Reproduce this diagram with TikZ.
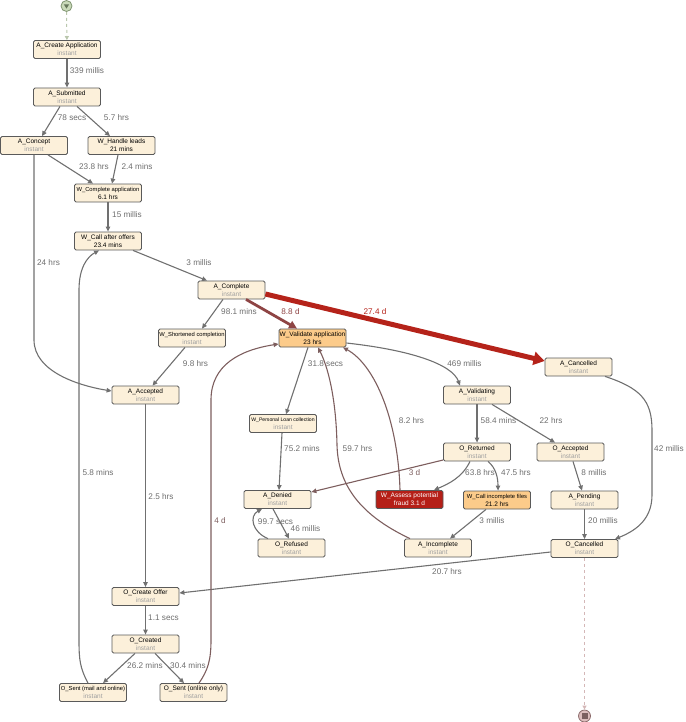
\documentclass[tikz,border=0pt]{standalone}
\usepackage{fontspec}
\setmainfont{Liberation Sans}
\usetikzlibrary{arrows.meta}
\definecolor{actfill}{HTML}{FCF0DA}
\definecolor{actline}{HTML}{5A5A5A}
\definecolor{hotfill}{HTML}{FCCB8A}
\definecolor{fraudfill}{HTML}{B51F17}
\definecolor{subgray}{HTML}{A0A0A0}
\definecolor{lblgray}{HTML}{6E6E6E}
\definecolor{flowgray}{HTML}{707070}
\definecolor{slowbrown}{HTML}{7D5E5E}
\definecolor{slowerred}{HTML}{8E4444}
\definecolor{slowestred}{HTML}{B5231A}
\definecolor{startfill}{HTML}{C9D9B9}
\definecolor{startline}{HTML}{7F9470}
\definecolor{endfill}{HTML}{DDBDBD}
\definecolor{endline}{HTML}{8A6A6A}
\begin{document}
\begin{tikzpicture}[x=1pt,y=-1pt,
	act/.style={draw=actline,fill=actfill,rounded corners=1.5pt,line width=0.8pt,minimum width=67pt,minimum height=18pt,inner sep=0pt,align=center,font=\fontsize{6.5}{8}\selectfont},
	hot/.style={act,fill=hotfill},
	fraudbox/.style={act,fill=fraudfill,text=white},
	lbl/.style={font=\fontsize{8.2}{9}\selectfont,text=lblgray,inner sep=0pt},
	flow/.style={draw=flowgray,line width=1.1pt,-{Triangle[length=5pt,width=4.5pt]}},
	slow/.style={flow,draw=slowbrown}]
	\useasboundingbox (0,0) rectangle (685,722);
	\node[circle,draw=startline,fill=startfill,line width=0.8pt,minimum size=11pt,inner sep=0pt] (start) at (66.5,6) {};
	\fill[startline!80!black] ([shift={(-2.6,-1.6)}]start.center) -- ([shift={(2.6,-1.6)}]start.center) -- ([shift={(0,2.6)}]start.center) -- cycle;
	\node[circle,draw=endline,fill=endfill,line width=0.8pt,minimum size=12pt,inner sep=0pt] (finish) at (584.5,716) {};
	\fill[endline!90!black] ([shift={(-3,-3)}]finish.center) rectangle ([shift={(3,3)}]finish.center);
	\node[act] (createapp) at (67,49.5) {A\_Create Application\\\textcolor{subgray}{instant}};
	\node[act] (submitted) at (67,97) {A\_Submitted\\\textcolor{subgray}{instant}};
	\node[act] (concept) at (34,145.5) {A\_Concept\\\textcolor{subgray}{instant}};
	\node[act] (handle) at (121.5,145.5) {W\_Handle leads\\21 mins};
	\node[act] (compapp) at (108,193) {{\fontsize{5.8}{8}\selectfont W\_Complete application}\\6.1 hrs};
	\node[act] (calloffers) at (108,241) {W\_Call after offers\\23.4 mins};
	\node[act] (acomplete) at (231.5,290) {A\_Complete\\\textcolor{subgray}{instant}};
	\node[act] (shortened) at (192,338) {{\fontsize{5.8}{8}\selectfont W\_Shortened completion}\\\textcolor{subgray}{instant}};
	\node[hot] (validate) at (312.5,338) {W\_Validate application\\23 hrs};
	\node[act] (accepted) at (145.5,395) {A\_Accepted\\\textcolor{subgray}{instant}};
	\node[act] (acancelled) at (578.5,367) {A\_Cancelled\\\textcolor{subgray}{instant}};
	\node[act] (avalidating) at (477,395) {A\_Validating\\\textcolor{subgray}{instant}};
	\node[act] (personal) at (283,423.5) {{\fontsize{5.1}{8}\selectfont W\_Personal Loan collection}\\\textcolor{subgray}{instant}};
	\node[act] (oreturned) at (477,452) {O\_Returned\\\textcolor{subgray}{instant}};
	\node[act] (oaccepted) at (570.5,452) {O\_Accepted\\\textcolor{subgray}{instant}};
	\node[act] (adenied) at (277.5,499.5) {A\_Denied\\\textcolor{subgray}{instant}};
	\node[fraudbox] (fraud) at (409.5,499.5) {W\_Assess potential\\fraud 3.1 d};
	\node[hot] (callinc) at (497,500) {{\fontsize{5.8}{8}\selectfont W\_Call incomplete files}\\21.2 hrs};
	\node[act] (apending) at (584.5,500) {A\_Pending\\\textcolor{subgray}{instant}};
	\node[act] (orefused) at (291.5,548) {O\_Refused\\\textcolor{subgray}{instant}};
	\node[act] (aincomplete) at (438,548) {A\_Incomplete\\\textcolor{subgray}{instant}};
	\node[act] (ocancelled) at (584.5,548.5) {O\_Cancelled\\\textcolor{subgray}{instant}};
	\node[act] (createoffer) at (145.5,596.5) {O\_Create Offer\\\textcolor{subgray}{instant}};
	\node[act] (ocreated) at (145.5,644) {O\_Created\\\textcolor{subgray}{instant}};
	\node[act] (osentmail) at (93,692.5) {{\fontsize{5.8}{8}\selectfont O\_Sent (mail and online)}\\\textcolor{subgray}{instant}};
	\node[act] (osentonline) at (193.5,692.5) {O\_Sent (online only)\\\textcolor{subgray}{instant}};
	\draw[draw=startfill!80!gray,line width=1pt,dashed,-{Triangle[length=4pt,width=4pt]}] (start) -- (createapp);
	\draw[draw=endfill!90!gray,line width=1pt,dashed,-{Triangle[length=4pt,width=4pt]}] (ocancelled) -- (finish);
	\draw[flow] (createapp) -- (submitted);
	\draw[flow] ([xshift=-7pt]submitted.south) -- ([xshift=8pt]concept.north);
	\draw[flow] ([xshift=10pt]submitted.south) -- ([xshift=-11.5pt]handle.north);
	\draw[flow] ([xshift=14pt]concept.south) -- ([xshift=-15pt]compapp.north);
	\draw[flow] ([xshift=-3.5pt]handle.south) -- ([xshift=4pt]compapp.north);
	\draw[flow] (compapp) -- (calloffers);
	\draw[flow] ([xshift=25pt]calloffers.south) -- ([xshift=-24.5pt]acomplete.north);
	\draw[flow] (concept.south) -- (34,340) .. controls (34,372) and (80,386) .. ([yshift=4pt]accepted.west);
	\draw[flow] ([xshift=-8.5pt]acomplete.south) -- ([xshift=10pt]shortened.north);
	\draw[flow] ([xshift=-7pt]shortened.south) -- ([xshift=7pt]accepted.north);
	\draw[flow,draw=slowerred,line width=2.8pt,-{Triangle[length=8pt,width=8pt]}] ([xshift=14.5pt]acomplete.south) -- ([xshift=-15.5pt]validate.north);
	\draw[flow,draw=slowestred,line width=5pt,-{Triangle[length=11pt,width=13pt]}] ([yshift=-4pt]acomplete.east) -- ([yshift=6pt]acancelled.west);
	\draw[flow] ([xshift=-4.5pt]validate.south) -- ([xshift=3pt]personal.north);
	\draw[flow] ([yshift=-5pt]validate.east) .. controls (410,350) and (452,364) .. ([xshift=-17pt]avalidating.north);
	\draw[flow] (avalidating) -- (oreturned);
	\draw[flow] ([xshift=15pt]avalidating.south) -- ([xshift=-15.5pt]oaccepted.north);
	\draw[flow] ([xshift=26.5pt]acancelled.south) .. controls (640,388) and (652,400) .. (652,430) -- (652,495) .. controls (652,522) and (632,532) .. ([xshift=30.5pt]ocancelled.north);
	\draw[flow] (accepted) -- (createoffer);
	\draw[flow] ([xshift=-1pt]personal.south) -- ([xshift=1.5pt]adenied.north);
	\draw[slow] ([yshift=-8pt]oreturned.west) -- ([yshift=7.5pt]adenied.east);
	\draw[flow] ([xshift=-7pt]oreturned.south) .. controls (462,478) and (448,484) .. ([xshift=24.5pt]fraud.north);
	\draw[flow] ([xshift=11pt]oreturned.south) .. controls (496,468) and (498,478) .. ([xshift=1pt]callinc.north);
	\draw[flow] ([xshift=2.5pt]oaccepted.south) -- ([xshift=-2.5pt]apending.north);
	\draw[slow] ([xshift=-9.5pt]fraud.north) .. controls (398,420) and (375,365) .. ([xshift=30.5pt]validate.south);
	\draw[slow] ([xshift=-28pt]aincomplete.north) .. controls (360,515) and (338,485) .. (337,445) .. controls (336,395) and (327,365) .. ([xshift=5.5pt]validate.south);
	\draw[flow] ([xshift=-11pt]callinc.south) -- ([xshift=12pt]aincomplete.north);
	\draw[flow] (apending) -- (ocancelled);
	\draw[flow] ([xshift=-4.5pt]adenied.south) -- ([xshift=-2.5pt]orefused.north);
	\draw[flow] ([xshift=-23.5pt]orefused.north) .. controls (252,532) and (249,516) .. ([xshift=-15.5pt]adenied.south);
	\draw[flow] ([yshift=-3.5pt]ocancelled.west) -- ([yshift=3.5pt]createoffer.east);
	\draw[flow] (createoffer) -- (ocreated);
	\draw[flow] ([xshift=-10.5pt]ocreated.south) -- ([xshift=10pt]osentmail.north);
	\draw[flow] ([xshift=9.5pt]ocreated.south) -- ([xshift=-9.5pt]osentonline.north);
	\draw[flow] ([xshift=-5pt]osentmail.north) .. controls (80,668) and (79,660) .. (79,640) -- (79,290) .. controls (79,268) and (87,257) .. ([xshift=-9pt]calloffers.south);
	\draw[slow] ([xshift=5.5pt]osentonline.north) .. controls (208,670) and (211,660) .. (211,640) -- (211,400) .. controls (211,365) and (240,350) .. ([yshift=-6pt]validate.west);
	\node[lbl] (lcreate) at (87,71) {339 millis};
	\node[lbl] (lconcept) at (72,118) {78 secs};
	\node[lbl] (lhandle) at (116.5,118) {5.7 hrs};
	\node[lbl] (lconcomp) at (94,167) {23.8 hrs};
	\node[lbl] (lhancomp) at (137,167) {2.4 mins};
	\node[lbl] (lcompcall) at (127,215) {15 millis};
	\node[lbl] (lconacc) at (48.5,263) {24 hrs};
	\node[lbl] (lcallcom) at (199,263) {3 millis};
	\node[lbl] (lcomshort) at (239,312) {98.1 mins};
	\node[lbl,text=slowerred] (lcomval) at (290.5,312) {8.8 d};
	\node[lbl,text=slowestred] (lcomcan) at (375,312) {27.4 d};
	\node[lbl] (lshortacc) at (195.5,364) {9.8 hrs};
	\node[lbl] (lvalper) at (325.5,364) {31.8 secs};
	\node[lbl] (lvalvali) at (464.5,364) {469 millis};
	\node[lbl] (lfraudval) at (411.5,421) {8.2 hrs};
	\node[lbl] (lvaliret) at (498.5,421) {58.4 mins};
	\node[lbl] (lvaliacc) at (551,421) {22 hrs};
	\node[lbl] (lcancan) at (669,449) {42 millis};
	\node[lbl] (lperden) at (302,449) {75.2 mins};
	\node[lbl] (linval) at (357.5,449) {59.7 hrs};
	\node[lbl,text=slowbrown] (lretden) at (414.5,473) {3 d};
	\node[lbl] (lretfraud) at (480,473) {63.8 hrs};
	\node[lbl] (lretcall) at (516,473) {47.5 hrs};
	\node[lbl] (laccpen) at (594,473) {8 millis};
	\node[lbl] (lacccre) at (161,497) {2.5 hrs};
	\node[lbl] (lsentcall) at (98,473) {5.8 mins};
	\node[lbl,text=slowbrown] (lsentval) at (220,521) {4 d};
	\node[lbl] (lrefden) at (275.5,522) {99.7 secs};
	\node[lbl] (ldenref) at (305.5,529) {46 millis};
	\node[lbl] (lcallin) at (492,521) {3 millis};
	\node[lbl] (lpencan) at (603,521) {20 millis};
	\node[lbl] (lcancre) at (447,572) {20.7 hrs};
	\node[lbl] (lcrecred) at (163.5,618) {1.1 secs};
	\node[lbl] (lcredmail) at (145,666) {26.2 mins};
	\node[lbl] (lcredon) at (188,666) {30.4 mins};
\end{tikzpicture}
\end{document}
